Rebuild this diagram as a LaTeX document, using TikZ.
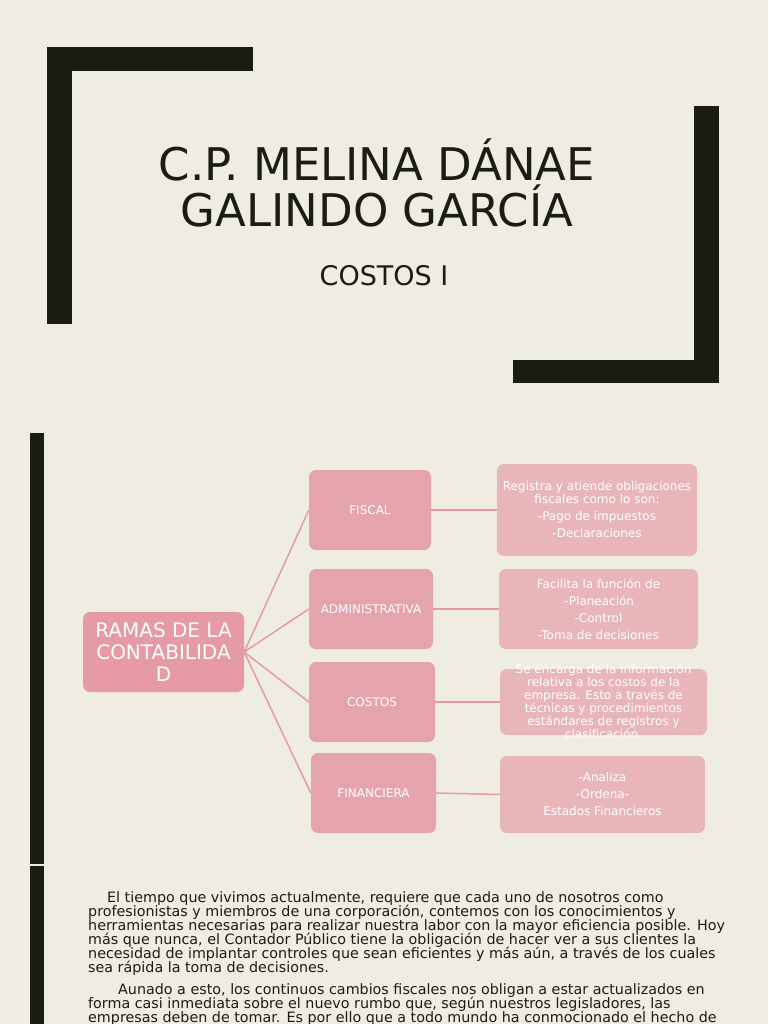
\documentclass[tikz,border=0pt]{standalone}
\usepackage{fontspec}
\setmainfont{DejaVu Sans}
\begin{document}
\begin{tikzpicture}[x=1pt,y=-1pt,
  bar/.style={fill=dk,draw=none},
  mid/.style={fill=pk2,draw=none,rounded corners=7pt,text=white,font=\fontsize{12}{14}\selectfont,inner sep=0pt},
  rbox/.style={fill=pk3,draw=none,rounded corners=7pt,text=white,font=\fontsize{12}{14}\selectfont,align=center,inner sep=0pt},
  conn/.style={draw=pk1,line width=1.5pt},
  para/.style={anchor=base west,inner sep=0pt,font=\fontsize{14.3}{14}\selectfont,text=dk}]
\definecolor{bg}{HTML}{EFECE2}
\definecolor{dk}{HTML}{1B1C12}
\definecolor{pk1}{HTML}{E59AA4}
\definecolor{pk2}{HTML}{E5A3AB}
\definecolor{pk3}{HTML}{E8B5B9}
\useasboundingbox (0,0) rectangle (768,1024);
\fill[bg] (0,0) rectangle (768,1024);
% brackets
\fill[bar] (47,47) rectangle (253,71);
\fill[bar] (47,47) rectangle (72,324);
\fill[bar] (694,106) rectangle (719,383);
\fill[bar] (513,360) rectangle (719,383);
\fill[bar] (30,433) rectangle (44,864);
\fill[bar] (30,866) rectangle (44,1024);
% title
\node[text=dk,font=\fontsize{45}{46}\selectfont,align=center] (title) at (377,183) {C.P. MELINA DÁNAE\\GALINDO GARCÍA};
\node[text=dk,font=\fontsize{27}{30}\selectfont] (sub) at (384,276) {COSTOS I};
% diagram
\node[fill=pk1,rounded corners=7pt,text=white,font=\fontsize{20}{22}\selectfont,align=center,minimum width=161pt,minimum height=80pt,inner sep=0pt] (ramas) at (163.5,652) {RAMAS DE LA\\CONTABILIDA\\D};
\node[mid,minimum width=122pt,minimum height=80pt] (fis) at (370,510) {FISCAL};
\node[mid,minimum width=124pt,minimum height=80pt] (adm) at (371,609) {ADMINISTRATIVA};
\node[mid,minimum width=126pt,minimum height=80pt] (cos) at (372,702) {COSTOS};
\node[mid,minimum width=125pt,minimum height=80pt] (fin) at (373.5,793) {FINANCIERA};
\node[rbox,minimum width=200pt,minimum height=92pt] (rf) at (597,510) {\fontsize{12}{13}\selectfont Registra y atiende obligaciones\\[-1pt]fiscales como lo son:\\[3pt]-Pago de impuestos\\[3pt]-Declaraciones};
\node[rbox,minimum width=199pt,minimum height=80pt] (ra) at (598.5,609) {Facilita la función de\\[3pt]–Planeación\\[3pt]-Control\\[3pt]-Toma de decisiones};
\node[rbox,minimum width=207pt,minimum height=66pt] (rc) at (603.5,702) {};
\node[text=white,align=center,font=\fontsize{12}{13}\selectfont,inner sep=0pt] (rct) at (603.5,701) {Se encarga de la información\\relativa a los costos de la\\empresa. Esto a través de\\técnicas y procedimientos\\estándares de registros y\\clasificación.};
\node[rbox,minimum width=205pt,minimum height=77pt] (rn) at (602.5,794.5) {-Analiza\\[3pt]-Ordena-\\[3pt]Estados Financieros};
\foreach \n in {fis,adm,cos,fin} \draw[conn] (ramas.east) -- (\n.west);
\draw[conn] (fis.east) -- (rf.west);
\draw[conn] (adm.east) -- (ra.west);
\draw[conn] (cos.east) -- (rc.west);
\draw[conn] (fin.east) -- (rn.west);
% paragraph
\node[para] (p1) at (88,902) {\hspace{19pt}El tiempo que vivimos actualmente, requiere que cada uno de nosotros como};
\node[para] (p2) at (88,916) {profesionistas y miembros de una corporación, contemos con los conocimientos y};
\node[para] (p3) at (88,930) {herramientas necesarias para realizar nuestra labor con la mayor eficiencia posible. Hoy};
\node[para] (p4) at (88,944) {más que nunca, el Contador Público tiene la obligación de hacer ver a sus clientes la};
\node[para] (p5) at (88,958) {necesidad de implantar controles que sean eficientes y más aún, a través de los cuales};
\node[para] (p6) at (88,972) {sea rápida la toma de decisiones.};
\node[para] (p7) at (88,994) {\hspace{30pt}Aunado a esto, los continuos cambios fiscales nos obligan a estar actualizados en};
\node[para] (p8) at (88,1008) {forma casi inmediata sobre el nuevo rumbo que, según nuestros legisladores, las};
\node[para] (p9) at (88,1022) {empresas deben de tomar. Es por ello que a todo mundo ha conmocionado el hecho de};
\end{tikzpicture}
\end{document}
